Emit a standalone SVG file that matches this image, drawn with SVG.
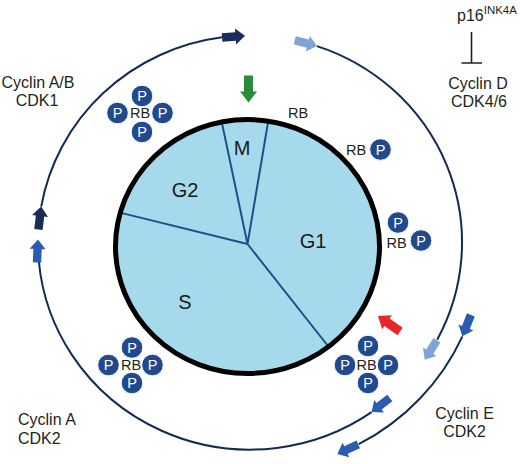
<svg xmlns="http://www.w3.org/2000/svg" width="520" height="464" viewBox="0 0 520 464">
<style>
.lbl{font-family:"Liberation Sans",Arial,sans-serif;fill:#231f20;font-size:16px}
.ph{font-family:"Liberation Sans",Arial,sans-serif;fill:#1a1a1a;font-size:20px;text-anchor:middle}
.rb{font-family:"Liberation Sans",Arial,sans-serif;fill:#231f20;font-size:14.5px;text-anchor:middle}
.pc{fill:#21498d;stroke:#ffffff;stroke-width:1}
.pt{font-family:"Liberation Sans",Arial,sans-serif;fill:#ffffff;font-size:14.5px;text-anchor:middle}
.arc{fill:none;stroke:#142a52;stroke-width:2}
.navy{fill:#1a2b5c}
.lblue{fill:#7ea5d6}
.blue{fill:#2a5db2}
.mid{text-anchor:middle}
</style>
<defs>
<path id="ba" d="M0,0 L-9.5,-8 L-9.5,-4.2 L-23,-4.2 L-23,4.2 L-9.5,4.2 L-9.5,8 Z"/>
<path id="bigA" d="M0,0 L-11,-8.5 L-11,-4.5 L-27,-4.5 L-27,4.5 L-11,4.5 L-11,8.5 Z"/>
</defs>

<g id="connectors">
  <path class="arc" d="M41.2,206.6 A212,207 0 0 1 222,37.3"/>
  <use href="#ba" class="navy" transform="translate(41.2,206.6) rotate(-83.1)"/>
  <use href="#ba" class="navy" transform="translate(245,35.8) rotate(-4.2)"/>
  <path class="arc" d="M317,46.1 A212,207 0 0 1 437.2,339.7"/>
  <use href="#ba" class="lblue" transform="translate(317,46.1) rotate(14.9)"/>
  <use href="#ba" class="lblue" transform="translate(424.7,359.7) rotate(122)"/>
  <path class="arc" d="M462.4,336.3 A233,228 0 0 1 358.7,444.2"/>
  <use href="#ba" class="blue" transform="translate(462.4,336.3) rotate(111.6)"/>
  <use href="#ba" class="blue" transform="translate(337.3,453.9) rotate(155.6)"/>
  <path class="arc" d="M371.6,412.1 A212,207 0 0 1 38.9,262"/>
  <use href="#ba" class="blue" transform="translate(371.6,412.1) rotate(142.3)"/>
  <use href="#ba" class="blue" transform="translate(38,239.5) rotate(-87.5)"/>
  <use href="#bigA" fill="#2a8a3e" transform="translate(248.5,102.5) rotate(90)"/>
  <use href="#bigA" fill="#e8262b" transform="translate(378,316) rotate(215)"/>
  <path d="M471.5,32 V63 M461.5,63 H482" fill="none" stroke="#231f20" stroke-width="1.6"/>
</g>

<g id="cell-cycle">
  <ellipse cx="247.5" cy="246.5" rx="132" ry="127" fill="#a7d9ec"/>
  <path d="M247.5,244 L221.6,121.4 M247.5,244 L268.2,121.4 M247.5,244 L120,212.6 M247.5,244 L327.6,345.5" fill="none" stroke="#1f4f8a" stroke-width="2"/>
  <ellipse cx="247.5" cy="246.5" rx="132" ry="127" fill="none" stroke="#000000" stroke-width="5"/>
  <text class="ph" x="242" y="155">M</text>
  <text class="ph" x="185" y="197">G2</text>
  <text class="ph" x="313" y="248">G1</text>
  <text class="ph" x="185" y="309">S</text>
</g>

<g id="rb-unphosphorylated">
  <text class="rb" x="298" y="118">RB</text>
</g>

<g id="rb-p1">
  <text class="rb" x="356" y="155">RB</text>
  <circle class="pc" cx="380.5" cy="149.5" r="10.8"/>
  <text class="pt" x="380.5" y="154.7">P</text>
</g>

<g id="rb-p2">
  <circle class="pc" cx="398" cy="222.5" r="10.8"/>
  <text class="pt" x="398" y="227.7">P</text>
  <text class="rb" x="396.5" y="247.5">RB</text>
  <circle class="pc" cx="421" cy="240.5" r="10.8"/>
  <text class="pt" x="421" y="245.7">P</text>
</g>

<g id="rb-p4-g1s">
  <text class="rb" x="366.5" y="370">RB</text>
  <circle class="pc" cx="368" cy="346" r="10.8"/>
  <text class="pt" x="368" y="351.2">P</text>
  <circle class="pc" cx="345" cy="365" r="10.8"/>
  <text class="pt" x="345" y="370.2">P</text>
  <circle class="pc" cx="388" cy="365" r="10.8"/>
  <text class="pt" x="388" y="370.2">P</text>
  <circle class="pc" cx="368" cy="383" r="10.8"/>
  <text class="pt" x="368" y="388.2">P</text>
</g>

<g id="rb-p4-s">
  <text class="rb" x="131" y="370">RB</text>
  <circle class="pc" cx="132" cy="347.5" r="10.8"/>
  <text class="pt" x="132" y="352.7">P</text>
  <circle class="pc" cx="108.5" cy="365" r="10.8"/>
  <text class="pt" x="108.5" y="370.2">P</text>
  <circle class="pc" cx="152.5" cy="365" r="10.8"/>
  <text class="pt" x="152.5" y="370.2">P</text>
  <circle class="pc" cx="132" cy="383" r="10.8"/>
  <text class="pt" x="132" y="388.2">P</text>
</g>

<g id="rb-p4-g2m">
  <text class="rb" x="140" y="118">RB</text>
  <circle class="pc" cx="142" cy="96" r="10.8"/>
  <text class="pt" x="142" y="101.2">P</text>
  <circle class="pc" cx="117.5" cy="113" r="10.8"/>
  <text class="pt" x="117.5" y="118.2">P</text>
  <circle class="pc" cx="162.5" cy="113" r="10.8"/>
  <text class="pt" x="162.5" y="118.2">P</text>
  <circle class="pc" cx="142" cy="132" r="10.8"/>
  <text class="pt" x="142" y="137.2">P</text>
</g>

<g id="cyclin-ab">
  <text class="lbl mid" x="38" y="88">Cyclin A/B</text>
  <text class="lbl mid" x="37" y="106">CDK1</text>
</g>

<g id="cyclin-d">
  <text class="lbl" x="457" y="21">p16<tspan font-size="11.5" dy="-7">INK4A</tspan></text>
  <text class="lbl mid" x="478" y="89">Cyclin D</text>
  <text class="lbl mid" x="479" y="107">CDK4/6</text>
</g>

<g id="cyclin-e">
  <text class="lbl mid" x="464.5" y="419">Cyclin E</text>
  <text class="lbl mid" x="464.5" y="437">CDK2</text>
</g>

<g id="cyclin-a">
  <text class="lbl" x="18" y="425">Cyclin A</text>
  <text class="lbl" x="18" y="444">CDK2</text>
</g>
</svg>
